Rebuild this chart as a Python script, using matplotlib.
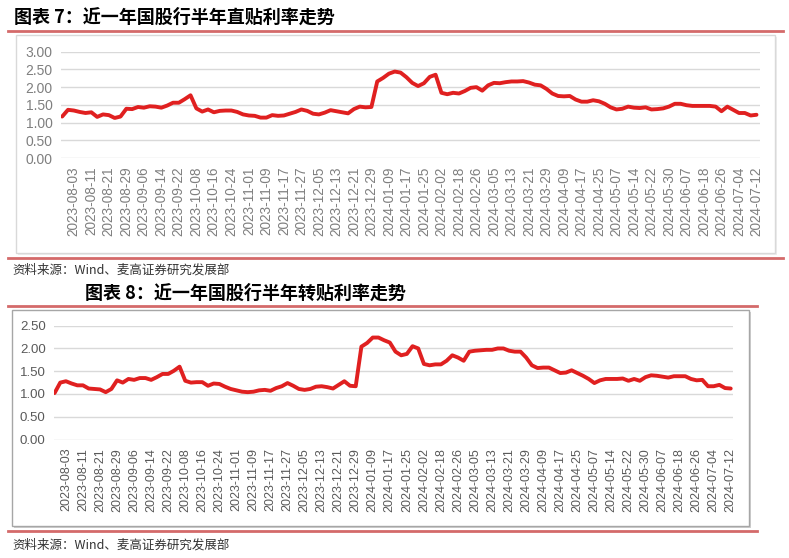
import matplotlib
matplotlib.use('Agg')
import matplotlib.pyplot as plt
import matplotlib.patches as patches
from matplotlib.lines import Line2D
from matplotlib.ticker import FormatStrFormatter
import numpy as np

W, H = 789, 558

tick_labels = [
    '2023-08-03', '2023-08-11', '2023-08-21', '2023-08-29', '2023-09-06',
    '2023-09-14', '2023-09-22', '2023-10-08', '2023-10-16', '2023-10-24',
    '2023-11-01', '2023-11-09', '2023-11-17', '2023-11-27', '2023-12-05',
    '2023-12-13', '2023-12-21', '2023-12-29', '2024-01-09', '2024-01-17',
    '2024-01-25', '2024-02-02', '2024-02-18', '2024-02-26', '2024-03-05',
    '2024-03-13', '2024-03-21', '2024-03-29', '2024-04-09', '2024-04-17',
    '2024-04-25', '2024-05-07', '2024-05-14', '2024-05-22', '2024-05-30',
    '2024-06-07', '2024-06-18', '2024-06-26', '2024-07-04', '2024-07-12',
]

# 国股行半年直贴利率 (%), 每两个交易日读一次
zhitie = [
    1.17, 1.36, 1.34, 1.30, 1.27, 1.29, 1.16, 1.23, 1.21, 1.13,
    1.17, 1.39, 1.38, 1.44, 1.42, 1.46, 1.45, 1.42, 1.48, 1.56,
    1.56, 1.66, 1.77, 1.40, 1.31, 1.37, 1.29, 1.33, 1.34, 1.34,
    1.30, 1.23, 1.20, 1.19, 1.14, 1.14, 1.21, 1.19, 1.20, 1.25,
    1.30, 1.37, 1.33, 1.25, 1.23, 1.28, 1.35, 1.32, 1.29, 1.26,
    1.38, 1.45, 1.43, 1.44, 2.16, 2.26, 2.38, 2.44, 2.41, 2.28,
    2.12, 2.03, 2.11, 2.29, 2.35, 1.84, 1.80, 1.84, 1.82, 1.89,
    1.98, 2.00, 1.90, 2.05, 2.12, 2.11, 2.14, 2.16, 2.16, 2.17,
    2.13, 2.07, 2.05, 1.95, 1.82, 1.75, 1.74, 1.75, 1.65, 1.59,
    1.59, 1.63, 1.60, 1.53, 1.43, 1.37, 1.39, 1.45, 1.42, 1.41,
    1.43, 1.37, 1.38, 1.40, 1.45, 1.53, 1.53, 1.49, 1.47, 1.47,
    1.47, 1.47, 1.45, 1.32, 1.45, 1.36, 1.27, 1.27, 1.20, 1.22,
]

# 国股行半年转贴利率 (%)
zhuantie = [
    1.02, 1.25, 1.28, 1.23, 1.19, 1.19, 1.12, 1.11, 1.10, 1.04,
    1.11, 1.30, 1.25, 1.33, 1.31, 1.35, 1.35, 1.31, 1.37, 1.44,
    1.44, 1.51, 1.60, 1.29, 1.25, 1.26, 1.26, 1.18, 1.23, 1.22,
    1.16, 1.11, 1.08, 1.05, 1.04, 1.05, 1.08, 1.09, 1.07, 1.13,
    1.17, 1.24, 1.18, 1.11, 1.09, 1.11, 1.16, 1.17, 1.15, 1.12,
    1.20, 1.28, 1.18, 1.17, 2.04, 2.12, 2.24, 2.24, 2.18, 2.13,
    1.93, 1.85, 1.88, 2.05, 2.00, 1.66, 1.63, 1.65, 1.65, 1.73,
    1.85, 1.80, 1.73, 1.93, 1.95, 1.96, 1.97, 1.97, 2.00, 2.00,
    1.95, 1.93, 1.93, 1.80, 1.63, 1.57, 1.58, 1.58, 1.52, 1.46,
    1.47, 1.52, 1.46, 1.40, 1.33, 1.24, 1.30, 1.33, 1.33, 1.33,
    1.34, 1.29, 1.33, 1.29, 1.37, 1.41, 1.40, 1.38, 1.36, 1.39,
    1.39, 1.39, 1.33, 1.30, 1.31, 1.17, 1.17, 1.20, 1.13, 1.12,
]


def px_rect(x0, y0, x1, y1):
    return [x0 / W, 1 - y1 / H, (x1 - x0) / W, (y1 - y0) / H]


def red_rule(fig, y, x0, x1):
    fig.add_artist(Line2D([x0 / W, x1 / W], [1 - y / H, 1 - y / H],
                          color='#D46A6A', lw=2.0))


def frame(fig, x0, y0, x1, y1, ec, shadow):
    fig.add_artist(patches.Rectangle(((x0 + 2) / W, 1 - (y1 + 2) / H),
                                     (x1 - x0) / W, (y1 - y0) / H,
                                     fill=True, fc=shadow, ec='none',
                                     zorder=-3))
    fig.add_artist(patches.Rectangle((x0 / W, 1 - y1 / H),
                                     (x1 - x0) / W, (y1 - y0) / H,
                                     fill=True, fc='white', ec=ec, lw=1.0,
                                     zorder=-2))


def draw_chart(ax, values, ymax, xlim, tick_size, label_size, color):
    x = np.arange(len(values))
    ax.plot(x, values, color='#E02020', lw=2.8, solid_joinstyle='round',
            solid_capstyle='round')
    ax.set_xlim(*xlim)
    ax.set_ylim(0, ymax)
    ax.set_yticks(np.arange(0, ymax + 0.01, 0.5))
    ax.yaxis.set_major_formatter(FormatStrFormatter('%.2f'))
    ax.set_xticks(np.arange(2, len(values), 3))
    ax.set_xticklabels(tick_labels, rotation=90, fontsize=label_size,
                       color=color, family='Liberation Sans')
    for lab in ax.get_yticklabels():
        lab.set_family('Liberation Sans')
    ax.tick_params(axis='y', length=0, pad=6, labelsize=tick_size,
                   labelcolor=color)
    ax.tick_params(axis='x', length=0, pad=6)
    ax.grid(axis='y', color='#D9D9D9', lw=1.0)
    ax.set_axisbelow(True)
    for s in ax.spines.values():
        s.set_visible(False)
    ax.patch.set_alpha(0)


plt.rcParams['font.family'] = ['Noto Sans CJK SC', 'DejaVu Sans']

fig = plt.figure(figsize=(W / 100, H / 100), dpi=100)

# 图表 7
fig.text(14 / W, 1 - 17 / H, '图表 7：近一年国股行半年直贴利率走势',
         fontsize=13, fontweight='bold', va='center', ha='left')
red_rule(fig, 31, 8, 783)
frame(fig, 16, 35, 775, 253, '#D9D9D9', '#EEEEEE')
ax1 = fig.add_axes(px_rect(61, 51.7, 760, 158))
draw_chart(ax1, zhitie, 3.0, (-0.2, 119.6), 10, 9.8, '#7F7F7F')
red_rule(fig, 258, 8, 783)
fig.text(12 / W, 1 - 270 / H, '资料来源：Wind、麦高证券研究发展部',
         fontsize=9, va='center', ha='left', color='#333333')

# 图表 8
fig.text(85 / W, 1 - 293 / H, '图表 8：近一年国股行半年转贴利率走势',
         fontsize=13, fontweight='bold', va='center', ha='left')
red_rule(fig, 305.5, 8, 757)
frame(fig, 12, 310, 749, 526, '#A6A6A6', '#D0D0D0')
ax2 = fig.add_axes(px_rect(54, 325.7, 733, 439.5))
draw_chart(ax2, zhuantie, 2.5, (-0.1, 119.4), 9.5, 9, '#595959')
red_rule(fig, 530.5, 8, 757)
fig.text(12 / W, 1 - 545 / H, '资料来源：Wind、麦高证券研究发展部',
         fontsize=9, va='center', ha='left', color='#333333')

fig.savefig('out.png', dpi=100)
